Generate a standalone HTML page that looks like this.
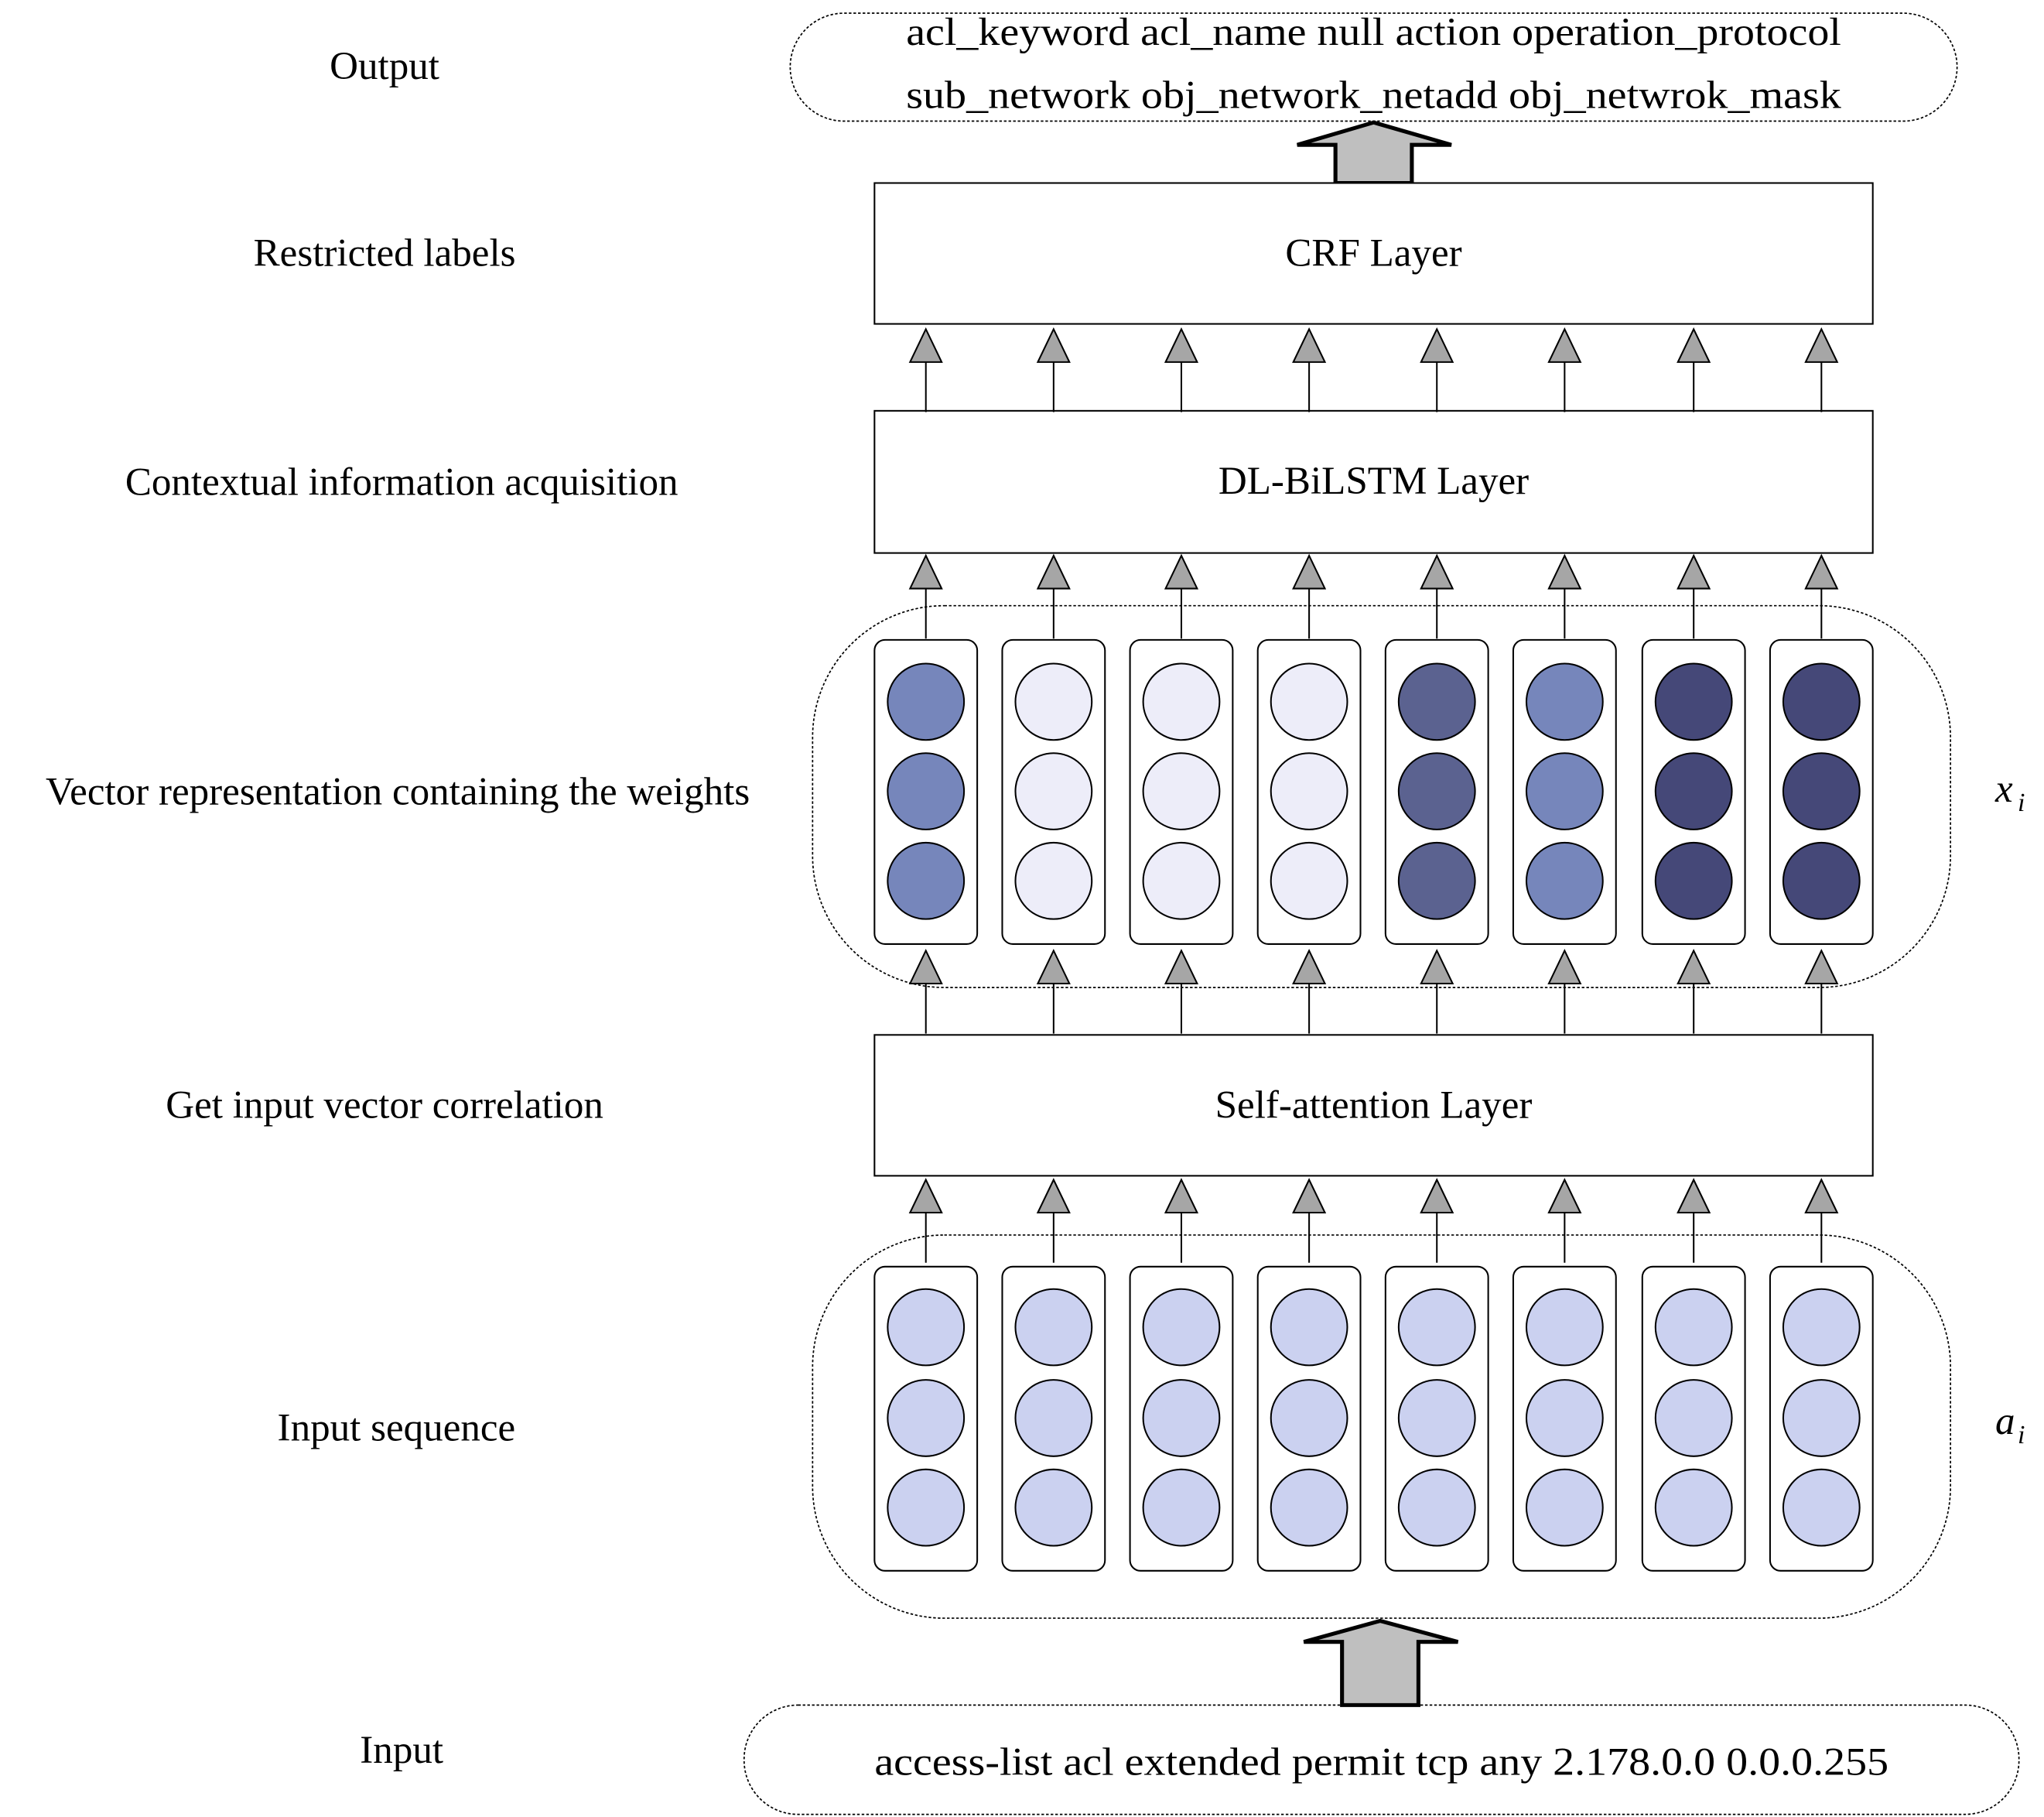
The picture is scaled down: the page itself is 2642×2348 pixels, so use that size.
<!DOCTYPE html>
<html><head><meta charset="utf-8"><style>
html,body{margin:0;padding:0;background:#fff;}
svg{display:block;}
text{font-family:"Liberation Serif",serif;fill:#000;}
</style></head><body>
<svg width="2642" height="2348" viewBox="0 0 1552 1380" preserveAspectRatio="none" xmlns="http://www.w3.org/2000/svg">
<defs>
<g id="a"><polygon points="0,0 -12,25 12,25" fill="#a6a6a6" stroke="#000" stroke-width="1.2"/><line x1="0" y1="25" x2="0" y2="63" stroke="#000" stroke-width="1.2"/></g>
<g id="c"><rect x="-39" y="0" width="78" height="231" rx="8" fill="#fff" stroke="#000" stroke-width="1.2"/></g>
</defs>
<rect width="1552" height="1380" fill="#fff"/>

<!-- Output box -->
<rect x="600" y="10" width="886" height="82" rx="41" fill="none" stroke="#000" stroke-width="1" stroke-dasharray="2,1.5"/>
<text x="1043" y="34" font-size="30" text-anchor="middle" textLength="710" lengthAdjust="spacingAndGlyphs">acl_keyword acl_name null action operation_protocol</text>
<text x="1043" y="82" font-size="30" text-anchor="middle" textLength="710" lengthAdjust="spacingAndGlyphs">sub_network obj_network_netadd obj_netwrok_mask</text>
<polygon points="1014,139 1014,110 985,110 1043,93 1102,110 1072,110 1072,139" fill="#bfbfbf" stroke="#000" stroke-width="3"/>

<!-- Layers -->
<rect x="664" y="139" width="758" height="107" fill="#fff" stroke="#000" stroke-width="1.2"/>
<text x="1043" y="202" font-size="30" text-anchor="middle">CRF Layer</text>
<rect x="664" y="312" width="758" height="108" fill="#fff" stroke="#000" stroke-width="1.2"/>
<text x="1043" y="375" font-size="30" text-anchor="middle">DL-BiLSTM Layer</text>
<rect x="664" y="786" width="758" height="107" fill="#fff" stroke="#000" stroke-width="1.2"/>
<text x="1043" y="849" font-size="30" text-anchor="middle">Self-attention Layer</text>

<!-- dashed groups -->
<rect x="617" y="460" width="864" height="290" rx="100" fill="none" stroke="#000" stroke-width="1" stroke-dasharray="2,1.5"/>
<rect x="617" y="938" width="864" height="291" rx="100" fill="none" stroke="#000" stroke-width="1" stroke-dasharray="2,1.5"/>

<!-- arrows rows -->
<g>
<use href="#a" x="703" y="250"/><use href="#a" x="800" y="250"/><use href="#a" x="897" y="250"/><use href="#a" x="994" y="250"/><use href="#a" x="1091" y="250"/><use href="#a" x="1188" y="250"/><use href="#a" x="1286" y="250"/><use href="#a" x="1383" y="250"/>
<use href="#a" x="703" y="422"/><use href="#a" x="800" y="422"/><use href="#a" x="897" y="422"/><use href="#a" x="994" y="422"/><use href="#a" x="1091" y="422"/><use href="#a" x="1188" y="422"/><use href="#a" x="1286" y="422"/><use href="#a" x="1383" y="422"/>
<use href="#a" x="703" y="722"/><use href="#a" x="800" y="722"/><use href="#a" x="897" y="722"/><use href="#a" x="994" y="722"/><use href="#a" x="1091" y="722"/><use href="#a" x="1188" y="722"/><use href="#a" x="1286" y="722"/><use href="#a" x="1383" y="722"/>
<use href="#a" x="703" y="896"/><use href="#a" x="800" y="896"/><use href="#a" x="897" y="896"/><use href="#a" x="994" y="896"/><use href="#a" x="1091" y="896"/><use href="#a" x="1188" y="896"/><use href="#a" x="1286" y="896"/><use href="#a" x="1383" y="896"/>
</g>

<!-- vector columns -->
<g stroke="#000" stroke-width="1.2">
<use href="#c" x="703" y="486"/><use href="#c" x="800" y="486"/><use href="#c" x="897" y="486"/><use href="#c" x="994" y="486"/><use href="#c" x="1091" y="486"/><use href="#c" x="1188" y="486"/><use href="#c" x="1286" y="486"/><use href="#c" x="1383" y="486"/>
<g fill="#7686bb"><circle cx="703" cy="533" r="29"/><circle cx="703" cy="601" r="29"/><circle cx="703" cy="669" r="29"/></g>
<g fill="#ededf9"><circle cx="800" cy="533" r="29"/><circle cx="800" cy="601" r="29"/><circle cx="800" cy="669" r="29"/>
<circle cx="897" cy="533" r="29"/><circle cx="897" cy="601" r="29"/><circle cx="897" cy="669" r="29"/>
<circle cx="994" cy="533" r="29"/><circle cx="994" cy="601" r="29"/><circle cx="994" cy="669" r="29"/></g>
<g fill="#5b6290"><circle cx="1091" cy="533" r="29"/><circle cx="1091" cy="601" r="29"/><circle cx="1091" cy="669" r="29"/></g>
<g fill="#7686bb"><circle cx="1188" cy="533" r="29"/><circle cx="1188" cy="601" r="29"/><circle cx="1188" cy="669" r="29"/></g>
<g fill="#454878"><circle cx="1286" cy="533" r="29"/><circle cx="1286" cy="601" r="29"/><circle cx="1286" cy="669" r="29"/>
<circle cx="1383" cy="533" r="29"/><circle cx="1383" cy="601" r="29"/><circle cx="1383" cy="669" r="29"/></g>
</g>

<!-- input columns -->
<g stroke="#000" stroke-width="1.2">
<use href="#c" x="703" y="962"/><use href="#c" x="800" y="962"/><use href="#c" x="897" y="962"/><use href="#c" x="994" y="962"/><use href="#c" x="1091" y="962"/><use href="#c" x="1188" y="962"/><use href="#c" x="1286" y="962"/><use href="#c" x="1383" y="962"/>
<g fill="#cbd1f0">
<circle cx="703" cy="1008" r="29"/><circle cx="703" cy="1077" r="29"/><circle cx="703" cy="1145" r="29"/>
<circle cx="800" cy="1008" r="29"/><circle cx="800" cy="1077" r="29"/><circle cx="800" cy="1145" r="29"/>
<circle cx="897" cy="1008" r="29"/><circle cx="897" cy="1077" r="29"/><circle cx="897" cy="1145" r="29"/>
<circle cx="994" cy="1008" r="29"/><circle cx="994" cy="1077" r="29"/><circle cx="994" cy="1145" r="29"/>
<circle cx="1091" cy="1008" r="29"/><circle cx="1091" cy="1077" r="29"/><circle cx="1091" cy="1145" r="29"/>
<circle cx="1188" cy="1008" r="29"/><circle cx="1188" cy="1077" r="29"/><circle cx="1188" cy="1145" r="29"/>
<circle cx="1286" cy="1008" r="29"/><circle cx="1286" cy="1077" r="29"/><circle cx="1286" cy="1145" r="29"/>
<circle cx="1383" cy="1008" r="29"/><circle cx="1383" cy="1077" r="29"/><circle cx="1383" cy="1145" r="29"/>
</g></g>

<!-- input big arrow and box -->
<polygon points="1019,1295 1019,1247 990,1247 1048,1231 1107,1247 1077,1247 1077,1295" fill="#bfbfbf" stroke="#000" stroke-width="3"/>
<rect x="565" y="1295" width="968" height="83" rx="41" fill="none" stroke="#000" stroke-width="1" stroke-dasharray="2,1.5"/>
<text x="1049" y="1348" font-size="30" text-anchor="middle" textLength="770" lengthAdjust="spacingAndGlyphs">access-list acl extended permit tcp any 2.178.0.0 0.0.0.255</text>

<!-- left labels -->
<g font-size="30" text-anchor="middle">
<text x="292" y="60">Output</text>
<text x="292" y="202">Restricted labels</text>
<text x="305" y="376">Contextual information acquisition</text>
<text x="302" y="611">Vector representation containing the weights</text>
<text x="292" y="849">Get input vector correlation</text>
<text x="301" y="1094">Input sequence</text>
<text x="305" y="1339">Input</text>
</g>
<text x="1515" y="609" font-size="30" font-style="italic">x</text><text x="1532" y="616" font-size="20" font-style="italic">i</text>
<text x="1515" y="1089" font-size="30" font-style="italic">a</text><text x="1532" y="1096" font-size="20" font-style="italic">i</text>
</svg>
</body></html>
